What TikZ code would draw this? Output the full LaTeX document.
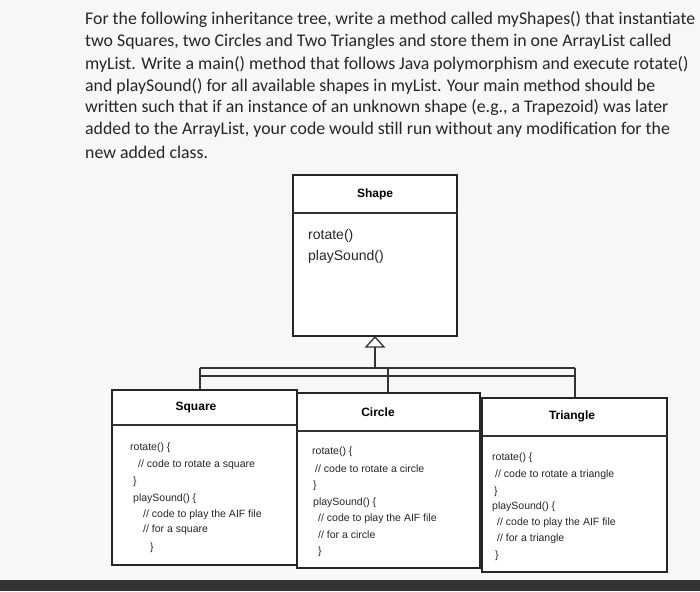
\documentclass[tikz,border=0pt]{standalone}
\usepackage{fontspec}
\setmainfont{Carlito}
\setsansfont{Liberation Sans}
\begin{document}
\begin{tikzpicture}[x=1pt,y=-1pt,
  para/.style={anchor=west,inner sep=0,font=\fontsize{17.8}{20}\selectfont,text=black!85},
  box/.style={draw=black!85,line width=1.6pt,fill=white},
  hdr/.style={font=\fontsize{12}{14}\selectfont\sffamily\bfseries,inner sep=0},
  body/.style={anchor=west,inner sep=0,font=\fontsize{10.5}{12}\selectfont\sffamily,text=black!85},
  conn/.style={draw=black!80,line width=1.3pt}]
\clip (0,0) rectangle (700,591);
\fill[black!3] (0,0) rectangle (700,591);
\node[para] (l1) at (85,20) {For the following inheritance tree,  write a method called myShapes() that instantiate};
\node[para] (l2) at (85,42) {two Squares, two Circles and Two Triangles and store them in one ArrayList called};
\node[para] (l3) at (85,64) {myList. Write a main() method that follows Java polymorphism and execute rotate()};
\node[para] (l4) at (85,86) {and playSound() for all available shapes in myList. Your main method should be};
\node[para] (l5) at (85,108) {written such that if an instance of an unknown shape (e.g., a Trapezoid) was later};
\node[para] (l6) at (85,130) {added to the ArrayList, your code would still run without any modification for the};
\node[para] (l7) at (85,152) {new added class.};
% Shape
\draw[box] (293,175) rectangle (457,336);
\draw[conn] (293,213) -- (457,213);
\node[hdr] (shape) at (375,194) {Shape};
\node[body,font=\fontsize{14}{16}\selectfont\sffamily] (r) at (308,236) {rotate()};
\node[body,font=\fontsize{14}{16}\selectfont\sffamily] (p) at (308,257) {playSound()};
% inheritance
\coordinate (tip) at (375,337);
\draw[conn,fill=white] (tip) -- (366,347) -- (384,347) -- cycle;
\draw[conn] (375,347) -- (375,368);
\draw[conn] (200,368) -- (575,368);
\draw[conn] (200,376) -- (575,376);
\draw[conn] (200,368) -- (200,390);
\draw[conn] (575,368) -- (575,398);
\draw[conn] (388,368) -- (388,393);
% Square
\draw[box] (112,390) rectangle (297,565);
\draw[conn] (112,425) -- (297,425);
\node[hdr] (sq) at (196,408) {Square};
\node[body] at (130,448) {rotate() \{};
\node[body] at (138,465) {// code to rotate a square};
\node[body] at (133,482) {\}};
\node[body] at (133,499) {playSound() \{};
\node[body] at (143,515) {// code to play the AIF file};
\node[body] at (143,530) {// for a square};
\node[body] at (150,548) {\}};
% Circle
\draw[box] (297,393) rectangle (480,568);
\draw[conn] (297,431) -- (480,431);
\node[hdr] (ci) at (378,412) {Circle};
\node[body] at (312,452) {rotate() \{};
\node[body] at (315,469) {// code to rotate a circle};
\node[body] at (313,486) {\}};
\node[body] at (313,503) {playSound() \{};
\node[body] at (318,519) {// code to play the AIF file};
\node[body] at (318,535) {// for a circle};
\node[body] at (318,552) {\}};
% Triangle
\draw[box] (482,398) rectangle (667,572);
\draw[conn] (482,436) -- (667,436);
\node[hdr] (tr) at (572,416) {Triangle};
\node[body] at (492,458) {rotate() \{};
\node[body] at (495,475) {// code to rotate a triangle};
\node[body] at (494,492) {\}};
\node[body] at (492,507) {playSound() \{};
\node[body] at (497,523) {// code to play the AIF file};
\node[body] at (497,539) {// for a triangle};
\node[body] at (495,556) {\}};
\fill[black!80] (0,580) rectangle (700,591);
\end{tikzpicture}
\end{document}
